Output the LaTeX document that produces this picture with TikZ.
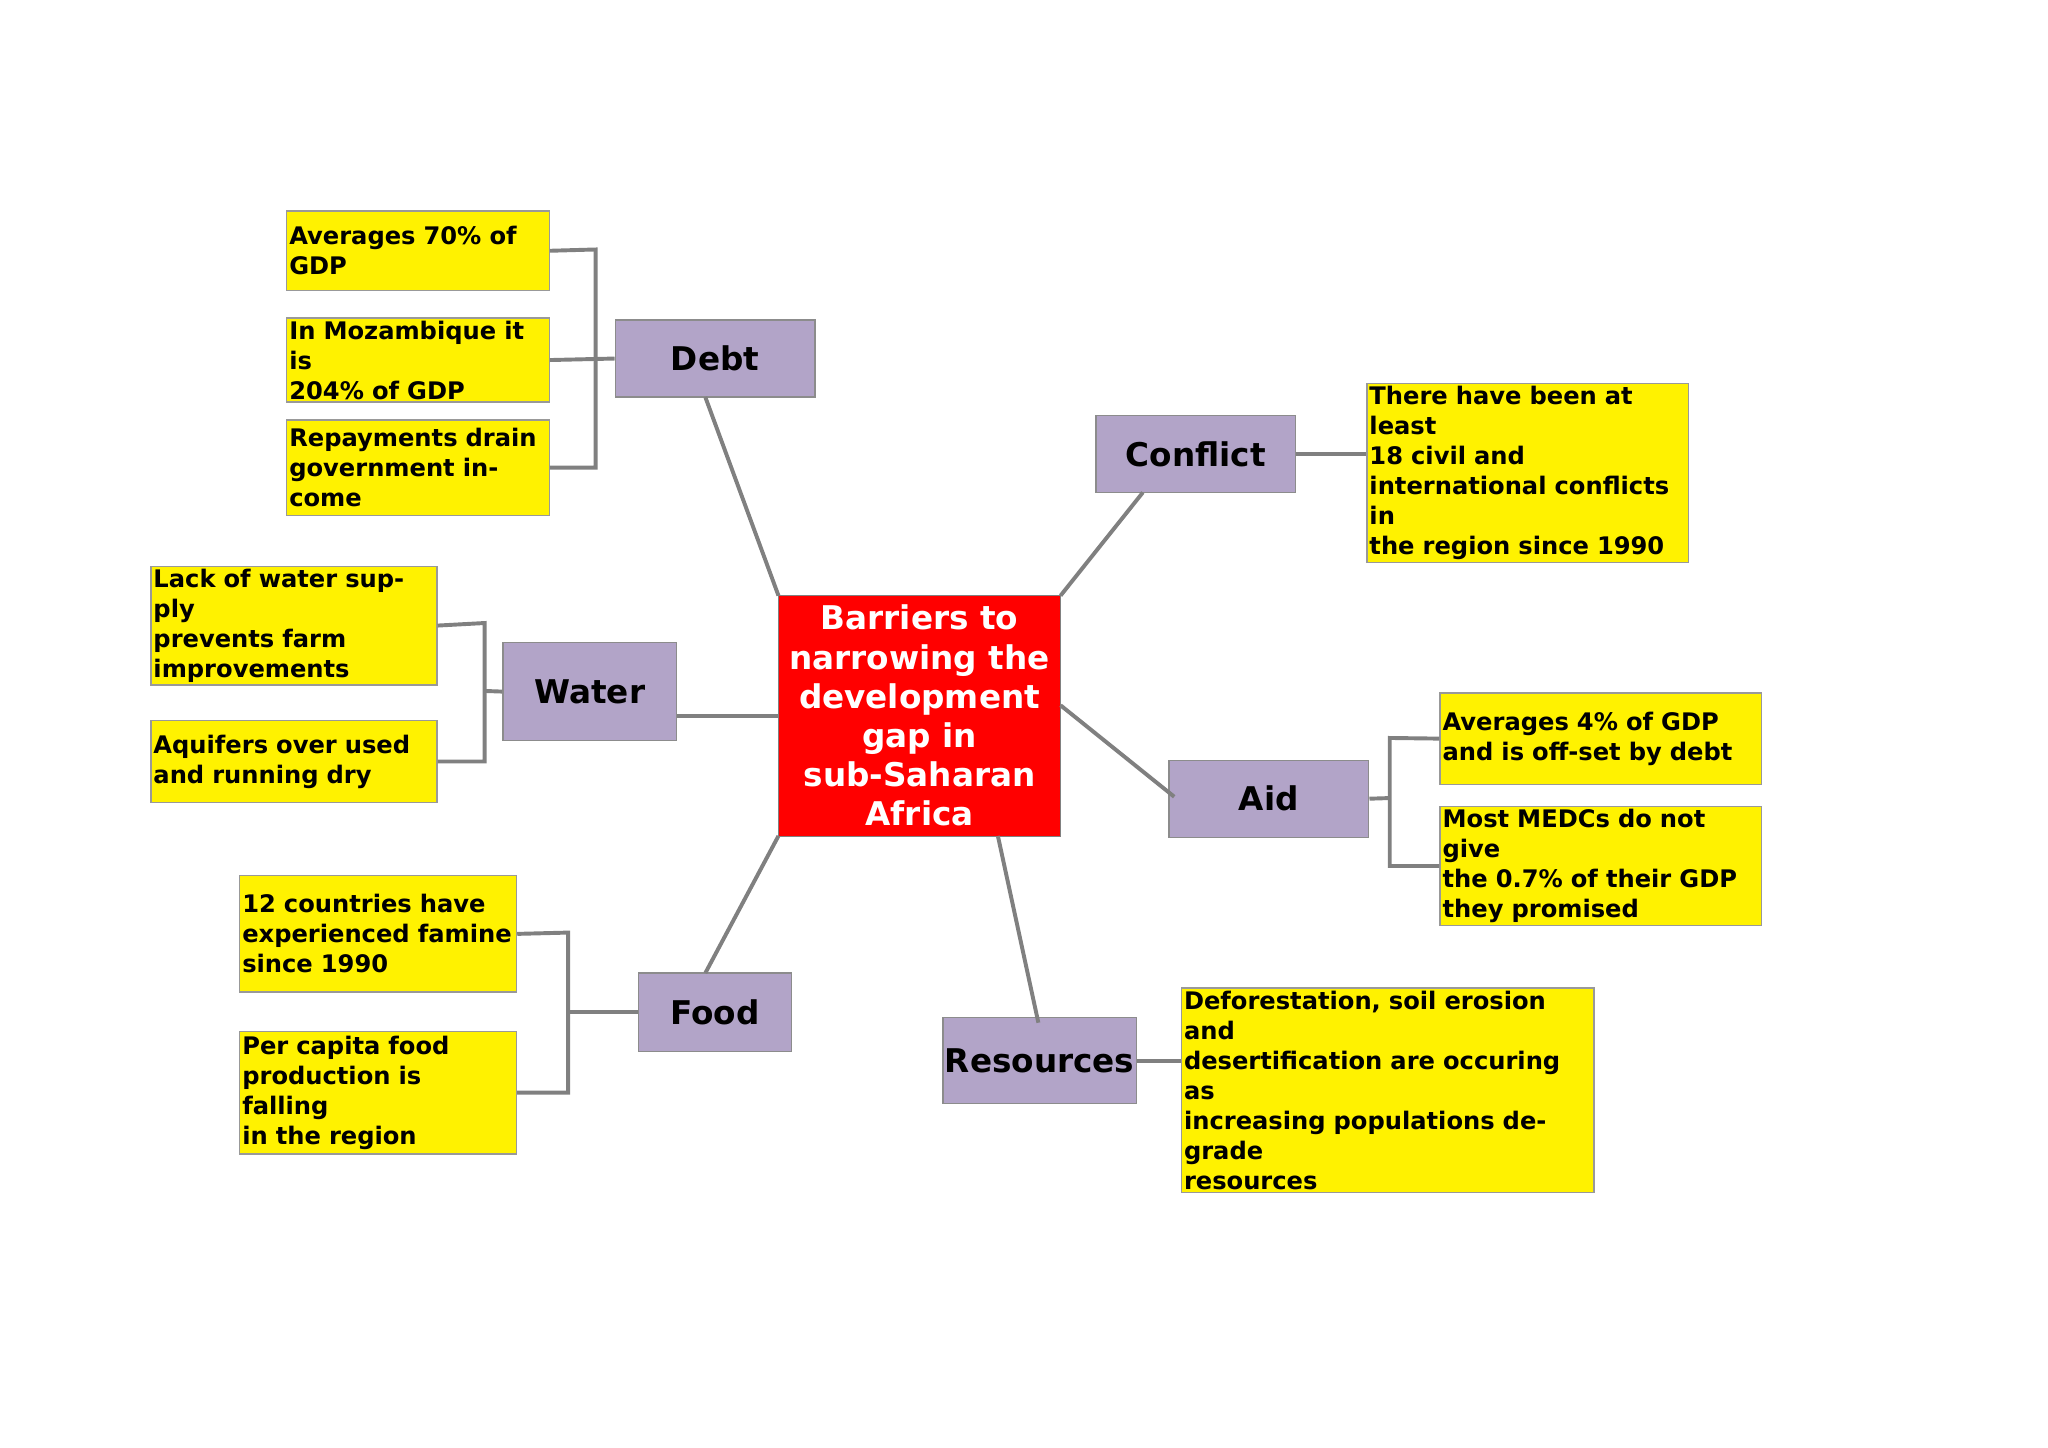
\documentclass[tikz,border=0pt]{standalone}
\usepackage{fontspec}
\setmainfont{DejaVu Sans}
\begin{document}
\begin{tikzpicture}[x=1pt,y=-1pt,
 yb/.style={draw=gray!80,fill=yellow,line width=1pt,align=left,inner sep=2pt,font=\bfseries\fontsize{18.5}{23}\selectfont,anchor=north west},
 cat/.style={draw=gray!90,fill={rgb,255:red,178;green,164;blue,200},line width=1pt,font=\bfseries\fontsize{25}{30}\selectfont,inner sep=0pt},
 ln/.style={draw={rgb,255:red,128;green,128;blue,128},line width=3pt}]
\useasboundingbox (0,0) rectangle (1568,1108);
\fill[white] (0,0) rectangle (1568,1108);
\node[draw=gray,fill=red,text=white,font=\bfseries\fontsize{25}{30}\selectfont,align=center,minimum width=216pt,minimum height=184pt,inner sep=0pt] (c) at (704,548) {Barriers to\\narrowing the\\development\\gap in\\sub-Saharan\\Africa};
\node[cat,minimum width=153pt,minimum height=59pt] (debt) at (547.5,274.5) {Debt};
\node[cat,minimum width=153pt,minimum height=59pt] (conf) at (915.5,347.5) {Conflict};
\node[cat,minimum width=133pt,minimum height=75pt] (water) at (451.5,529.5) {Water};
\node[cat,minimum width=153pt,minimum height=59pt] (aid) at (971.5,611.5) {Aid};
\node[cat,minimum width=117pt,minimum height=60pt] (food) at (547.5,775) {Food};
\node[cat,minimum width=148pt,minimum height=66pt] (res) at (796,812) {Resources};
\node[yb,text width=197pt,minimum height=61pt] (d1) at (219,161) {Averages 70\% of\\GDP};
\node[yb,text width=197pt,minimum height=57pt] (d2) at (219,243) {In Mozambique it is\\204\% of GDP};
\node[yb,text width=197pt,minimum height=73pt] (d3) at (219,321) {Repayments drain\\government income};
\node[yb,text width=215pt,minimum height=88pt] (w1) at (115,433) {Lack of water supply\\prevents farm\\improvements};
\node[yb,text width=215pt,minimum height=63pt] (w2) at (115,551) {Aquifers over used\\and running dry};
\node[yb,text width=242pt,minimum height=110pt] (c1) at (1046,293) {There have been at least\\18 civil and\\international conflicts in\\the region since 1990};
\node[yb,text width=242pt,minimum height=70pt] (a1) at (1102,530) {Averages 4\% of GDP\\and is off-set by debt};
\node[yb,text width=242pt,minimum height=83pt] (a2) at (1102,617) {Most MEDCs do not give\\the 0.7\% of their GDP\\they promised};
\node[yb,text width=208pt,minimum height=89pt] (f1) at (183,670) {12 countries have\\experienced famine\\since 1990};
\node[yb,text width=208pt,minimum height=94pt] (f2) at (183,789) {Per capita food\\production is falling\\in the region};
\node[yb,text width=312pt,minimum height=112pt] (r1) at (904,756) {Deforestation, soil erosion and\\desertification are occuring as\\increasing populations degrade\\resources};
% brackets
\draw[ln] (d1.east) -- (456,191) |- (d3.east);
\draw[ln] (d2.east) -- (debt.west);
\draw[ln] (w1.east) -- (371,477) |- (w2.east);
\draw[ln] (371,529) -- (water.west);
\draw[ln] (f1.east) -- (435,714) |- (f2.east);
\draw[ln] (435,775) -- (food.west);
\draw[ln] (a1.west) -- (1064,565) |- (a2.west);
\draw[ln] (aid.east) -- (1064,611);
\draw[ln] (conf.east) -- (c1.west |- conf.east);
\draw[ln] (res.east) -- (r1.west |- res.east);
% center
\draw[ln] (540,304) -- (596,456);
\draw[ln] (875,377) -- (812,456);
\draw[ln] (water.east |- 0,548) -- (c.west |- 0,548);
\draw[ln] (812,540) -- (899,610);
\draw[ln] (540,745) -- (596,640);
\draw[ln] (764,640) -- (795,783);
\end{tikzpicture}
\end{document}
